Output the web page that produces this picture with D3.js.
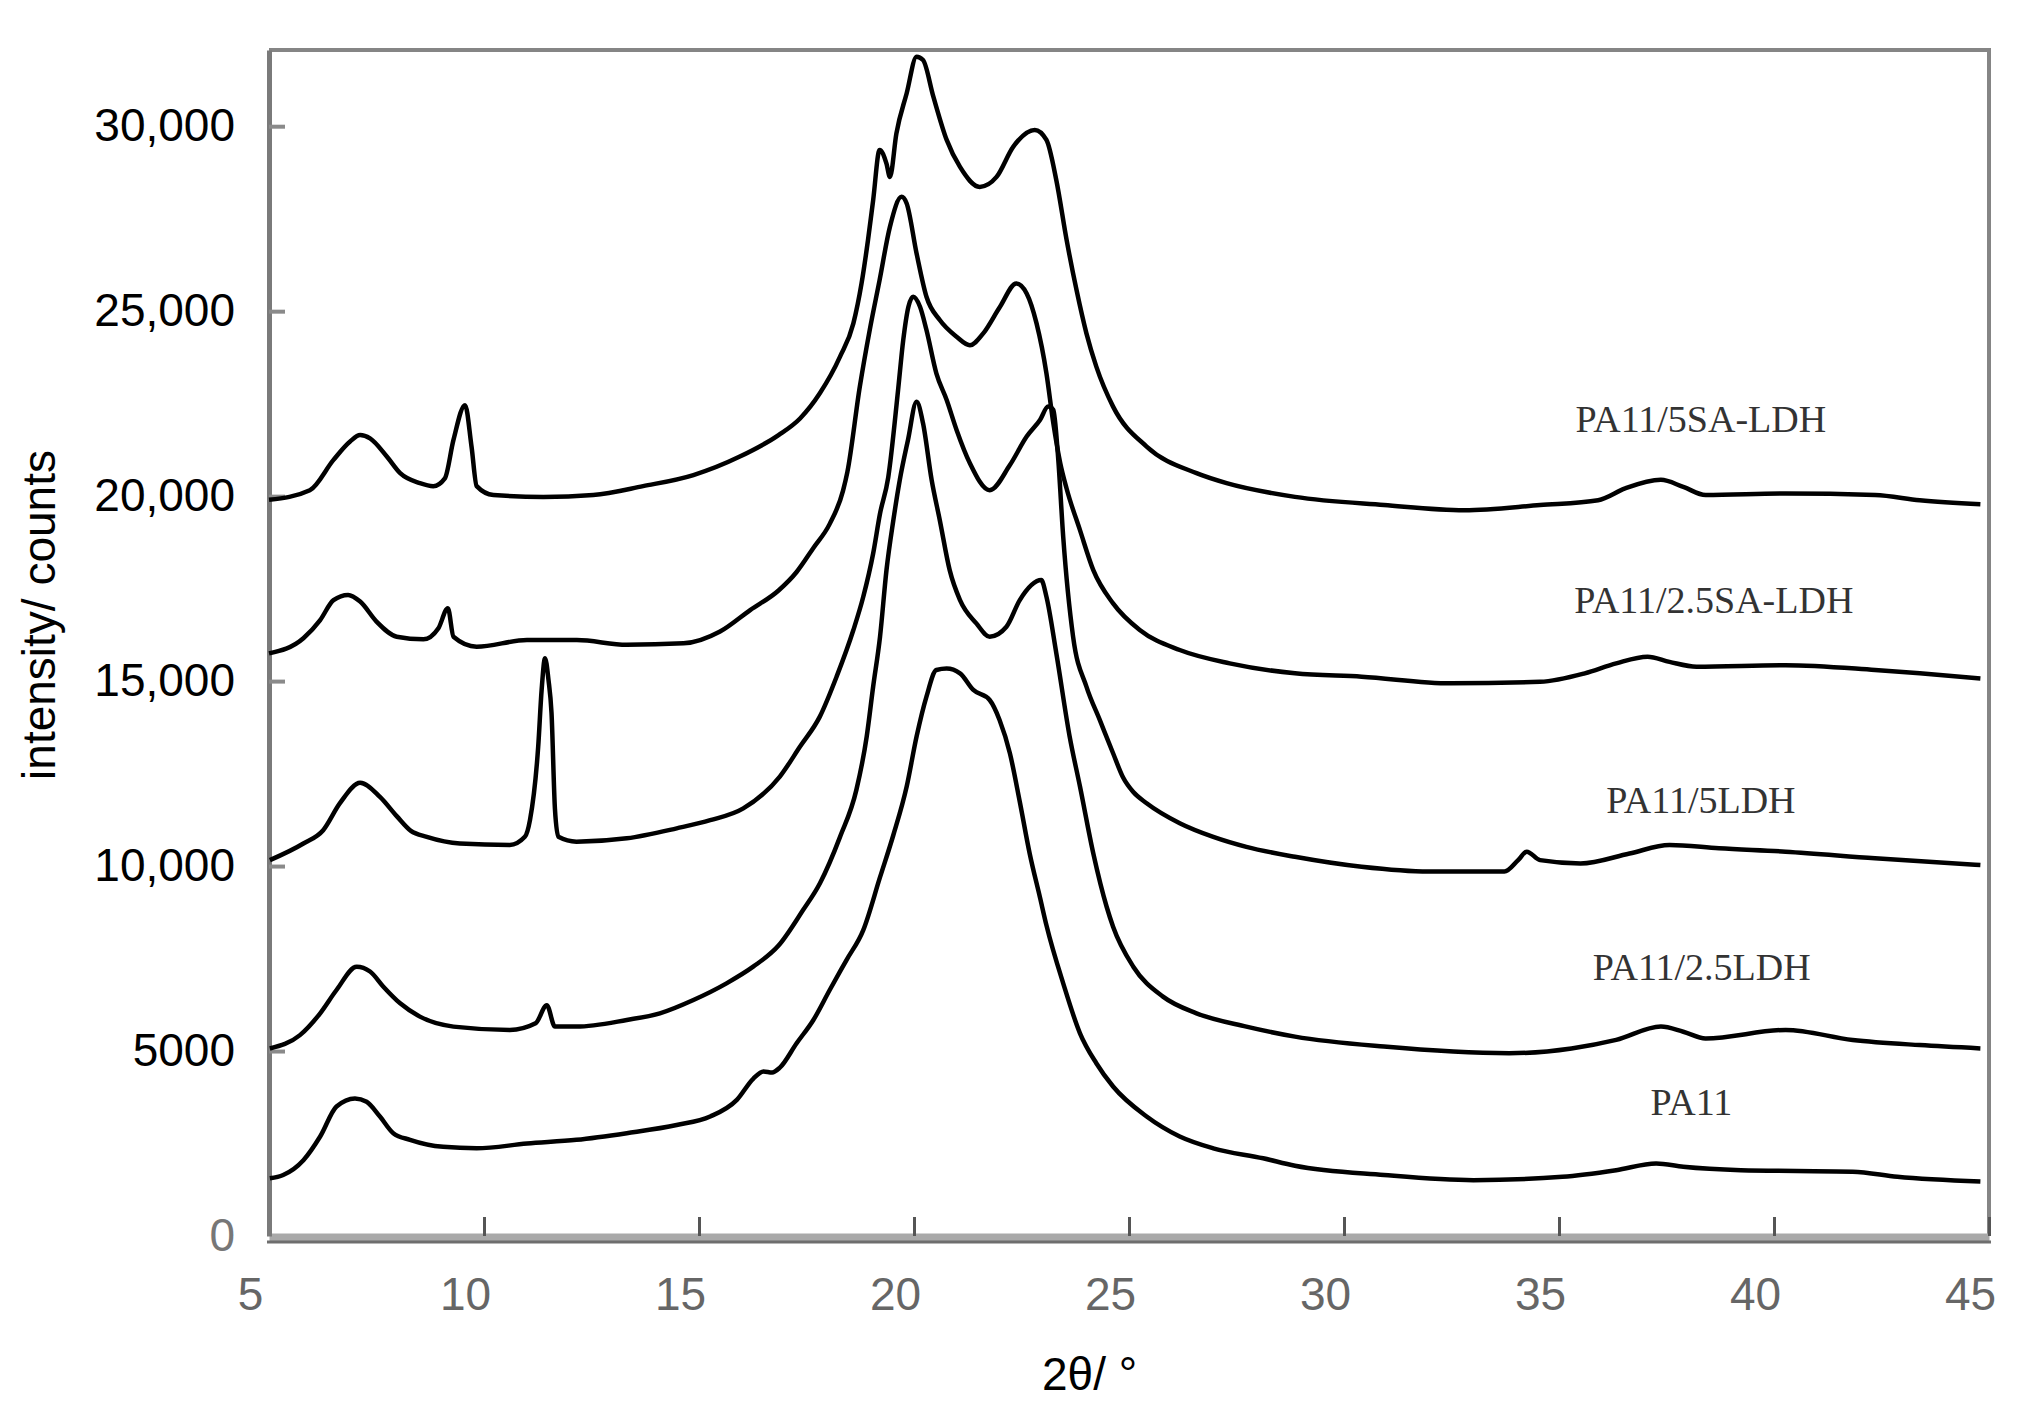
<!DOCTYPE html>
<html>
<head>
    <meta charset="UTF-8">
    <title>XRD patterns</title>
    <!-- link to D3.js -->
    <script src="https://d3js.org/d3.v7.min.js"></script>
    <style>
        body { margin: 0; background: white; }
        svg { display: block; }
    </style>
</head>
<body>
    <div id="chart"></div>

<script>
    // diffraction traces: [2theta, counts]
    var pa11_5sa = [
        [5.0,19900],[5.95,20160],[6.5,20980],[6.88,21470],[7.12,21650],[7.35,21560],[7.74,21070],
        [8.05,20620],[8.51,20350],[8.82,20270],[9.09,20480],[9.29,21520],[9.56,22460],[9.71,21340],
        [9.83,20270],[10.22,20030],[11.38,19980],[12.54,20030],[13.7,20270],[14.87,20570],[15.95,21070],
        [16.85,21650],[17.35,22100],[17.81,22780],[18.28,23770],[18.59,24670],[18.78,25750],[18.93,26920],
        [19.05,28000],[19.2,29360],[19.36,28990],[19.44,28630],[19.59,29800],[19.83,30890],[20.06,31880],
        [20.21,31790],[20.45,30800],[20.76,29630],[21.07,28900],[21.53,28360],[21.92,28630],[22.31,29450],
        [22.81,29900],[23.08,29630],[23.31,28540],[23.55,26920],[23.78,25570],[24.01,24400],[24.24,23500],
        [24.63,22420],[25.41,21340],[26.57,20620],[27.27,20350],[28.86,19980],[30.93,19760],[32.8,19620],
        [34.56,19760],[35.91,19890],[36.54,20210],[37.37,20440],[37.89,20250],[38.41,20030],[40.27,20070],
        [42.35,20030],[43.39,19890],[44.8,19780]
    ];
    var pa11_25sa = [
        [5.0,15750],[5.8,16160],[6.19,16650],[6.5,17190],[6.84,17330],[7.12,17150],[7.5,16610],
        [7.97,16200],[8.59,16130],[8.94,16430],[9.16,16970],[9.29,16200],[9.83,15930],[11.0,16110],
        [12.16,16110],[13.32,15980],[14.64,16020],[15.49,16340],[16.19,16920],[16.85,17450],[17.27,17950],
        [17.66,18600],[18.04,19250],[18.35,20150],[18.45,20650],[18.74,22960],[18.97,24490],[19.2,25840],
        [19.44,27280],[19.71,28090],[19.83,27910],[20.06,26560],[20.29,25390],[20.6,24760],[20.99,24310],
        [21.3,24080],[21.61,24400],[22.0,25120],[22.38,25750],[22.62,25480],[22.85,24670],[23.08,23320],
        [23.24,21970],[23.4,20900],[23.55,20200],[23.86,19080],[24.17,18000],[24.63,17100],[25.25,16380],
        [26.18,15840],[27.34,15480],[28.86,15210],[30.41,15120],[32.49,14940],[34.56,14980],[35.6,15210],
        [36.33,15480],[37.06,15660],[37.57,15520],[38.2,15390],[40.27,15430],[42.35,15300],[43.39,15210],
        [44.8,15070]
    ];
    var pa11_5ldh = [
        [5.02,10160],[5.8,10610],[6.26,10970],[6.65,11700],[7.12,12250],[7.58,11870],[7.97,11350],
        [8.3,10950],[8.67,10790],[9.44,10610],[10.6,10570],[10.95,10790],[11.07,11250],[11.26,13220],
        [11.34,14760],[11.42,15620],[11.5,15030],[11.57,14140],[11.65,11540],[11.73,10790],[12.15,10660],
        [13.32,10750],[14.48,11020],[15.26,11240],[16.03,11560],[16.88,12420],[17.35,13230],[17.81,14040],
        [18.2,15120],[18.59,16380],[18.82,17280],[19.05,18450],[19.21,19530],[19.4,20500],[19.63,22870],
        [19.75,24220],[19.87,25120],[19.98,25390],[20.14,25120],[20.29,24490],[20.52,23320],[20.76,22600],
        [20.99,21790],[21.3,20890],[21.76,20160],[22.23,20840],[22.62,21610],[22.93,22060],[23.12,22420],
        [23.24,22330],[23.35,21070],[23.47,18900],[23.7,16200],[24.01,14850],[24.32,13950],[24.63,13050],
        [24.86,12400],[25.1,12000],[25.41,11700],[26.18,11160],[26.96,10790],[27.73,10520],[28.86,10250],
        [30.41,9980],[31.97,9850],[33.73,9850],[34.05,10160],[34.25,10390],[34.56,10160],[35.5,10070],
        [36.64,10340],[37.57,10570],[38.72,10480],[40.27,10390],[42.35,10210],[44.8,10030]
    ];
    var pa11_25ldh = [
        [5.02,5070],[5.72,5430],[6.19,6020],[6.57,6650],[7.04,7280],[7.35,7150],[7.66,6740],[8.05,6290],
        [8.51,5930],[9.29,5660],[10.6,5570],[11.2,5750],[11.46,6240],[11.65,5660],[12.15,5660],[13.32,5840],
        [14.09,6020],[14.87,6380],[15.64,6830],[16.26,7280],[16.85,7850],[17.42,8810],[17.81,9530],
        [18.28,10790],[18.66,12060],[18.9,13500],[19.05,14850],[19.21,16200],[19.36,18000],[19.52,19350],
        [19.67,20440],[19.86,21520],[20.06,22550],[20.21,21970],[20.41,20440],[20.6,19350],[20.83,18000],
        [21.07,17190],[21.45,16560],[21.76,16200],[22.15,16470],[22.46,17190],[22.96,17730],[23.08,17280],
        [23.31,15750],[23.62,13500],[23.86,12150],[24.17,10340],[24.48,8900],[24.63,8360],[25.1,7280],
        [25.79,6470],[26.57,6020],[27.73,5660],[28.86,5390],[30.93,5120],[33.84,4940],[35.29,5070],
        [36.33,5300],[37.37,5660],[37.89,5520],[38.41,5340],[40.27,5570],[41.83,5300],[43.39,5160],
        [44.8,5070]
    ];
    var pa11 = [
        [5.02,1560],[5.33,1650],[5.8,2050],[6.19,2690],[6.57,3500],[7.0,3720],[7.27,3630],[7.58,3230],
        [7.89,2780],[8.28,2600],[9.05,2410],[9.83,2370],[11.0,2500],[12.15,2600],[13.32,2780],[14.48,3000],
        [15.26,3230],[15.88,3680],[16.26,4250],[16.5,4450],[16.7,4420],[16.88,4550],[17.27,5210],
        [17.66,5840],[18.04,6650],[18.43,7460],[18.82,8270],[19.21,9700],[19.52,10840],[19.83,12150],
        [20.06,13500],[20.29,14580],[20.52,15300],[20.76,15340],[21.07,15210],[21.38,14760],[21.76,14490],
        [21.99,13950],[22.23,13050],[22.46,11740],[22.69,10340],[22.93,9150],[23.08,8400],[23.47,6830],
        [23.86,5480],[24.24,4670],[24.63,4040],[25.41,3230],[26.18,2690],[26.96,2370],[28.12,2100],
        [28.86,1900],[30.93,1650],[33.01,1510],[35.08,1600],[36.33,1780],[37.26,1960],[37.89,1870],
        [39.23,1780],[41.83,1740],[42.87,1600],[44.8,1470]
    ];

    // sample names and where their labels sit, in [2theta, counts]
    var seriesNames = ["PA11/5SA-LDH", "PA11/2.5SA-LDH", "PA11/5LDH", "PA11/2.5LDH", "PA11"];
    var labelAt = [[38.3,21730], [38.6,16840], [38.3,11430], [38.32,6920], [38.08,3270]];

    // axis ticks
    var xTicks = [5, 10, 15, 20, 25, 30, 35, 40, 45];
    var yTicks = [0, 5000, 10000, 15000, 20000, 25000, 30000];
    var yTickLabels = ["0", "5000", "10,000", "15,000", "20,000", "25,000", "30,000"];

    var allSeries = [pa11_5sa, pa11_25sa, pa11_5ldh, pa11_25ldh, pa11];

    var width = 2033, height = 1415;

    var svg = d3.select("#chart").append("svg")
        .attr("width", width)
        .attr("height", height);

    // scales
    var x = d3.scaleLinear().domain([5, 45]).range([269, 1989]);
    var y = d3.scaleLinear().domain([0, 32060]).range([1236, 50]);

    // top and right frame
    svg.append("path")
        .attr("d", "M" + x(5) + "," + y(32060) + "H" + x(45) + "V" + y(0))
        .attr("fill", "none")
        .attr("stroke", "#858585")
        .attr("stroke-width", 4);

    // bottom axis - thick grey band with ticks pointing inward
    var xAxis = d3.axisBottom(x)
        .tickValues(xTicks)
        .tickSizeInner(-19)
        .tickSizeOuter(0)
        .tickFormat(d3.format("d"));

    var gx = svg.append("g")
        .attr("transform", "translate(0," + y(0) + ")")
        .call(xAxis);
    gx.select(".domain")
        .attr("stroke", "#a9a9a9")
        .attr("stroke-width", 8)
        .attr("transform", "translate(0,1)");
    gx.selectAll(".tick line")
        .attr("stroke", "#555")
        .attr("stroke-width", 3);
    gx.selectAll(".tick text")
        .attr("y", 74)
        .attr("dy", 0)
        .attr("dx", -19)
        .attr("fill", "#666")
        .attr("font-family", "Liberation Sans, Arial, sans-serif")
        .attr("font-size", 46);
    // darker bottom edge of the band
    svg.append("line")
        .attr("x1", x(5) - 2).attr("x2", x(45) + 2)
        .attr("y1", y(0) + 6).attr("y2", y(0) + 6)
        .attr("stroke", "#6e6e6e")
        .attr("stroke-width", 3);

    // left axis
    var yAxis = d3.axisLeft(y)
        .tickValues(yTicks)
        .tickSizeInner(-16)
        .tickSizeOuter(0)
        .tickPadding(34)
        .tickFormat(function(d, i) { return yTickLabels[i]; });

    var gy = svg.append("g")
        .attr("transform", "translate(" + x(5) + ",0)")
        .call(yAxis);
    gy.select(".domain")
        .attr("stroke", "#7a7a7a")
        .attr("stroke-width", 5);
    gy.selectAll(".tick line")
        .attr("stroke", "#8a8a8a")
        .attr("stroke-width", 4);
    gy.selectAll(".tick text")
        .attr("fill", function(d) { return d === 0 ? "#777" : "#000"; })
        .attr("font-family", "Liberation Sans, Arial, sans-serif")
        .attr("font-size", 46);
    gy.selectAll(".tick").filter(function(d) { return d === 0; }).select("line").remove();

    // the five traces
    var line = d3.line()
        .x(function(d) { return x(d[0]); })
        .y(function(d) { return y(d[1]); })
        .curve(d3.curveMonotoneX);

    svg.selectAll(".trace")
        .data(allSeries)
        .enter()
        .append("path")
            .attr("class", "trace")
            .attr("d", line)
            .attr("fill", "none")
            .attr("stroke", "#000")
            .attr("stroke-width", 4.5)
            .attr("stroke-linejoin", "round");

    // sample labels
    svg.selectAll(".lab")
        .data(seriesNames)
        .enter()
        .append("text")
            .attr("class", "lab")
            .attr("x", function(d, i) { return x(labelAt[i][0]); })
            .attr("y", function(d, i) { return y(labelAt[i][1]); })
            .attr("text-anchor", "middle")
            .attr("font-family", "Liberation Serif, Times New Roman, serif")
            .attr("font-size", 38)
            .attr("fill", "#333")
            .text(function(d) { return d; });

    // axis titles
    svg.append("text")
        .attr("transform", "translate(55,615) rotate(-90)")
        .attr("text-anchor", "middle")
        .attr("font-family", "Liberation Sans, Arial, sans-serif")
        .attr("font-size", 46)
        .attr("fill", "#000")
        .text("intensity/ counts");

    svg.append("text")
        .attr("x", 1042)
        .attr("y", 1390)
        .attr("font-family", "Liberation Sans, Arial, sans-serif")
        .attr("font-size", 46)
        .attr("fill", "#000")
        .text("2θ/ °");
</script>
</body>
</html>
